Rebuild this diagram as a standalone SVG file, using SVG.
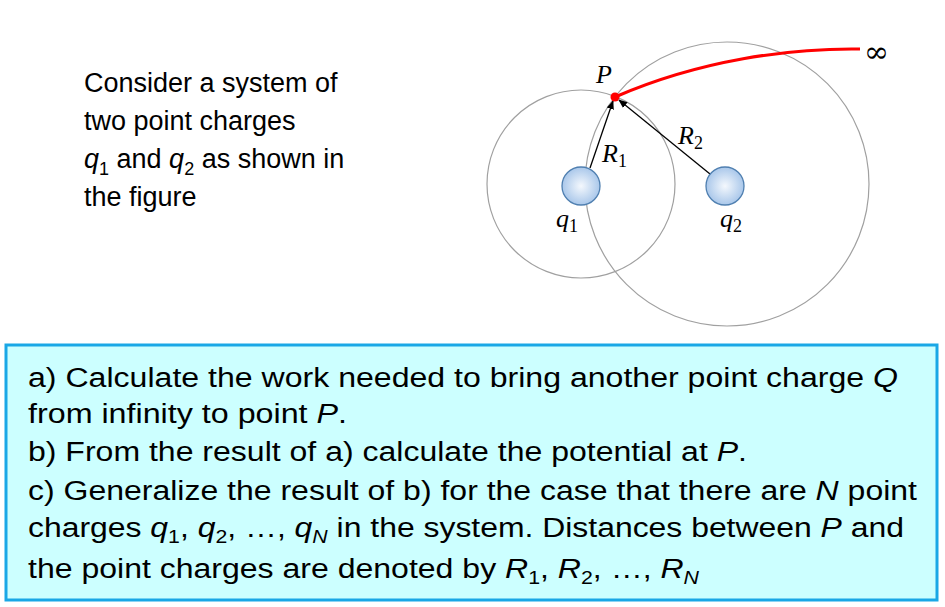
<svg xmlns="http://www.w3.org/2000/svg" width="945" height="607" viewBox="0 0 945 607">
<defs>
<radialGradient id="ball" cx="0.5" cy="0.5" r="0.5"><stop offset="0" stop-color="#f4f8fd"/><stop offset="1" stop-color="#a9c7ea"/></radialGradient>
<marker id="ah" viewBox="0 0 10 10" refX="9" refY="5" markerWidth="7" markerHeight="7" orient="auto"><path d="M0,1 L10,5 L0,9 z" fill="#000"/></marker>
<style>
.t{font-family:"Liberation Sans",Arial,sans-serif;font-size:27px;fill:#000}
.m{font-family:"Liberation Serif","DejaVu Serif",serif;font-style:italic;font-size:26px;fill:#000}
.c{fill:none;stroke:#a0a0a0;stroke-width:1.2}
.q{fill:url(#ball);stroke:#4f7fb0;stroke-width:1.3}
</style>
</defs>
<g id="intro">
<text class="t" x="84" y="92">Consider a system of</text>
<text class="t" x="84" y="130">two point charges</text>
<text class="t" x="84" y="168"><tspan font-style="italic">q</tspan><tspan font-size="18" dy="7">1</tspan><tspan dy="-7"> and </tspan><tspan font-style="italic">q</tspan><tspan font-size="18" dy="7">2</tspan><tspan dy="-7"> as shown in</tspan></text>
<text class="t" x="84" y="206">the figure</text>
</g>
<g id="figure">
<circle class="c" cx="581" cy="184" r="94"/>
<circle class="c" cx="727" cy="184" r="142"/>
<g id="connectors">
<line x1="590" y1="168" x2="613" y2="101" stroke="#000" stroke-width="1.3" marker-end="url(#ah)"/>
<line x1="710" y1="174" x2="619" y2="100" stroke="#000" stroke-width="1.3" marker-end="url(#ah)"/>
<path d="M615,97 C700,60 790,48 860,49" fill="none" stroke="#f00" stroke-width="3"/>
</g>
<g id="q1"><circle class="q" cx="581" cy="186" r="19"/><text class="m" x="556" y="227">q<tspan font-size="18" dy="5" font-style="normal">1</tspan></text></g>
<g id="q2"><circle class="q" cx="725" cy="186" r="19"/><text class="m" x="720" y="227">q<tspan font-size="18" dy="5" font-style="normal">2</tspan></text></g>
<g id="P"><circle cx="615" cy="97" r="4.5" fill="#f00"/><text class="m" x="596" y="83">P</text></g>
<text class="m" x="602" y="162">R<tspan font-size="18" dy="5" font-style="normal">1</tspan></text>
<text class="m" x="678" y="144">R<tspan font-size="18" dy="5" font-style="normal">2</tspan></text>
<text x="864" y="62" font-family="DejaVu Serif,serif" font-size="30">∞</text>
</g>
<g id="questions">
<rect x="6" y="345" width="931" height="255" fill="#ccffff" stroke="#19a7e6" stroke-width="3"/>
<text class="t" x="28" y="387" textLength="870" lengthAdjust="spacingAndGlyphs">a) Calculate the work needed to bring another point charge <tspan font-style="italic">Q</tspan></text>
<text class="t" x="28" y="423" textLength="319" lengthAdjust="spacingAndGlyphs">from infinity to point <tspan font-style="italic">P</tspan>.</text>
<text class="t" x="28" y="461" textLength="719" lengthAdjust="spacingAndGlyphs">b) From the result of a) calculate the potential at <tspan font-style="italic">P</tspan>.</text>
<text class="t" x="28" y="500" textLength="889" lengthAdjust="spacingAndGlyphs">c) Generalize the result of b) for the case that there are <tspan font-style="italic">N</tspan> point</text>
<text class="t" x="28" y="537" textLength="876" lengthAdjust="spacingAndGlyphs">charges <tspan font-style="italic">q</tspan><tspan font-size="18" dy="6">1</tspan><tspan dy="-6">, </tspan><tspan font-style="italic">q</tspan><tspan font-size="18" dy="6">2</tspan><tspan dy="-6">, …, </tspan><tspan font-style="italic">q</tspan><tspan font-size="18" font-style="italic" dy="6">N</tspan><tspan dy="-6"> in the system. Distances between </tspan><tspan font-style="italic">P</tspan> and</text>
<text class="t" x="28" y="578" textLength="671" lengthAdjust="spacingAndGlyphs">the point charges are denoted by <tspan font-style="italic">R</tspan><tspan font-size="18" dy="6">1</tspan><tspan dy="-6">, </tspan><tspan font-style="italic">R</tspan><tspan font-size="18" dy="6">2</tspan><tspan dy="-6">, …, </tspan><tspan font-style="italic">R</tspan><tspan font-size="18" font-style="italic" dy="6">N</tspan></text>
</g>
</svg>
